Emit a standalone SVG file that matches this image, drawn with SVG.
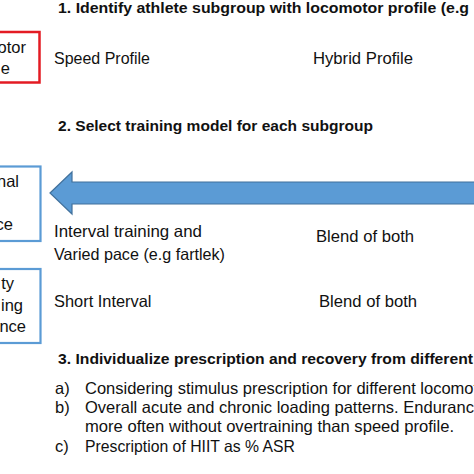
<svg xmlns="http://www.w3.org/2000/svg" width="474" height="474" viewBox="0 0 474 474">
<style>
text{font-family:"Liberation Sans",Arial,sans-serif;fill:#111;}
.h{font-weight:bold;font-size:15.5px;}
.b{font-size:16.5px;}
.redbox{fill:none;stroke:#e31b23;stroke-width:2.5;}
.bluebox{fill:none;stroke:#5b9bd5;stroke-width:2.2;}
.arrow{fill:#5b9bd5;stroke:#41719c;stroke-width:1.2;}
</style>
<rect width="474" height="474" fill="#fff"/>
<g id="headers">
<text class="h" x="58" y="12.5" textLength="411" lengthAdjust="spacingAndGlyphs">1. Identify athlete subgroup with locomotor profile (e.g</text>
<text class="h" x="58" y="130.5" textLength="315" lengthAdjust="spacingAndGlyphs">2. Select training model for each subgroup</text>
<text class="h" x="58" y="364" textLength="415" lengthAdjust="spacingAndGlyphs">3. Individualize prescription and recovery from different</text>
</g>
<g id="node-profile">
<rect class="redbox" x="-5" y="32" width="44.5" height="50.5"/>
<text class="b" x="26" y="53" text-anchor="end">otor</text>
<text class="b" x="10" y="74" text-anchor="end">e</text>
</g>
<g id="node-interval">
<rect class="bluebox" x="-5" y="166.5" width="45.5" height="74.5"/>
<text class="b" x="19" y="186.5" text-anchor="end">nal</text>
<text class="b" x="13" y="229.5" text-anchor="end">ce</text>
</g>
<g id="node-intensity">
<rect class="bluebox" x="-5" y="269" width="45.5" height="74"/>
<text class="b" x="14" y="289" text-anchor="end">ty</text>
<text class="b" x="23" y="311" text-anchor="end">ing</text>
<text class="b" x="26" y="332" text-anchor="end">nce</text>
</g>
<g id="connectors">
<path class="arrow" d="M50,193 L72,172 L72,182 L480,182 L480,204 L72,204 L72,214 Z"/>
</g>
<g id="row1">
<text class="b" x="54" y="64" textLength="96" lengthAdjust="spacingAndGlyphs">Speed Profile</text>
<text class="b" x="313" y="64" textLength="100" lengthAdjust="spacingAndGlyphs">Hybrid Profile</text>
</g>
<g id="row2">
<text class="b" x="54" y="237" textLength="148" lengthAdjust="spacingAndGlyphs">Interval training and</text>
<text class="b" x="54" y="260" textLength="171" lengthAdjust="spacingAndGlyphs">Varied pace (e.g fartlek)</text>
<text class="b" x="316" y="242" textLength="98" lengthAdjust="spacingAndGlyphs">Blend of both</text>
</g>
<g id="row3">
<text class="b" x="54" y="307" textLength="97.5" lengthAdjust="spacingAndGlyphs">Short Interval</text>
<text class="b" x="319" y="307" textLength="98" lengthAdjust="spacingAndGlyphs">Blend of both</text>
</g>
<g id="list">
<text class="b" x="55" y="394">a)</text>
<text class="b" x="85" y="394">Considering stimulus prescription for different locomotor</text>
<text class="b" x="55" y="413">b)</text>
<text class="b" x="85" y="413">Overall acute and chronic loading patterns. Endurance</text>
<text class="b" x="85" y="432" textLength="369" lengthAdjust="spacingAndGlyphs">more often without overtraining than speed profile.</text>
<text class="b" x="55" y="452">c)</text>
<text class="b" x="85" y="452" textLength="210" lengthAdjust="spacingAndGlyphs">Prescription of HIIT as % ASR</text>
</g>
</svg>
